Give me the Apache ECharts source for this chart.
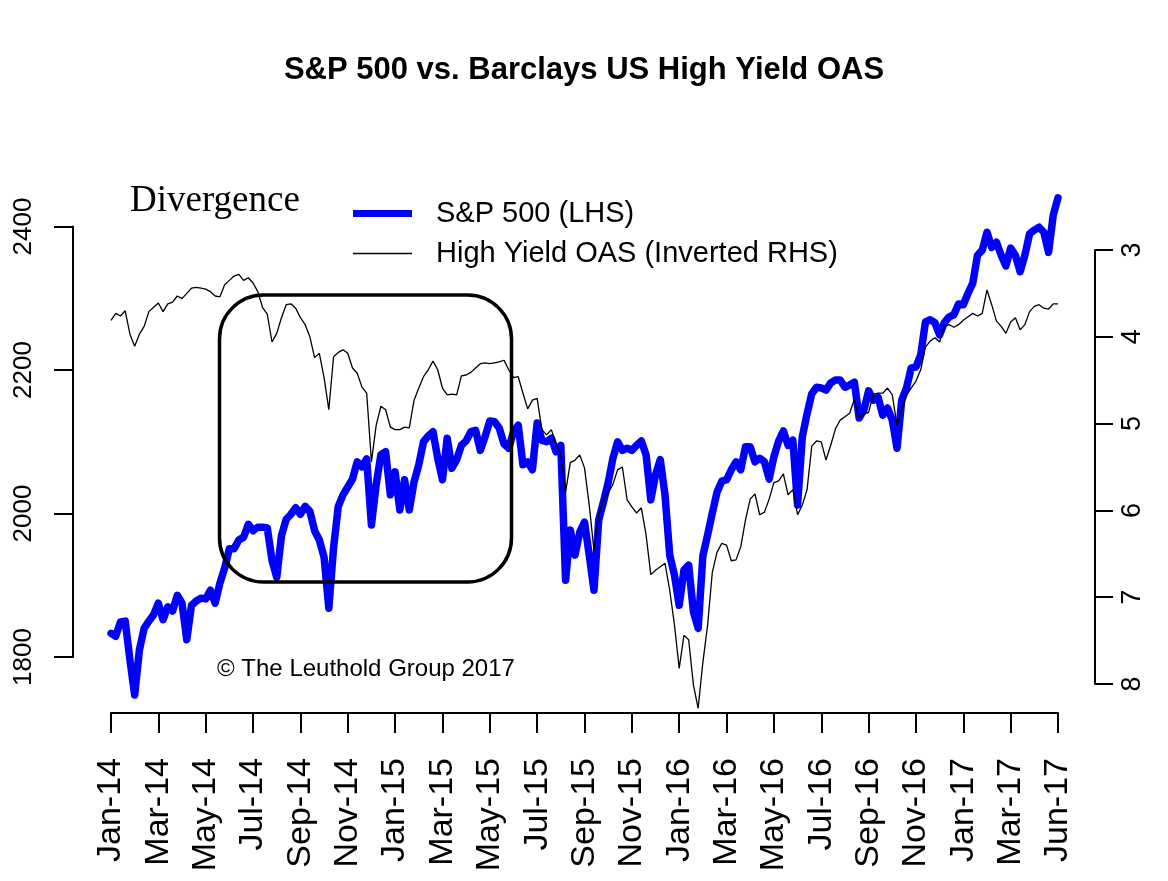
<!DOCTYPE html>
<html>
<head>
<meta charset="utf-8">
<script src="https://cdn.jsdelivr.net/npm/echarts@6/dist/echarts.min.js"></script>
<style>
html,body{margin:0;padding:0;background:#fff;}
#chart{width:1168px;height:881px;}
</style>
</head>
<body>
<div id="chart"></div>
<script>
// Tick labels at every 10th observation
var tickLabels = ['Jan-14','Mar-14','May-14','Jul-14','Sep-14','Nov-14','Jan-15','Mar-15','May-15','Jul-15',
  'Sep-15','Nov-15','Jan-16','Mar-16','May-16','Jul-16','Sep-16','Nov-16','Jan-17','Mar-17','Jun-17'];

// S&P 500 (LHS)
var spx = [
  1833,1829,1849,1850,1796,1747,1810,1840,1850,1859,
  1875,1852,1870,1864,1886,1875,1824,1872,1878,1882,
  1881,1893,1875,1903,1924,1951,1951,1963,1967,1985,
  1976,1981,1981,1980,1935,1911,1969,1992,1999,2008,
  1999,2010,2003,1976,1963,1939,1868,1952,2010,2026,
  2037,2048,2072,2065,2076,1984,2040,2082,2086,2026,
  2058,2005,2047,2005,2044,2068,2100,2108,2114,2077,
  2047,2105,2063,2075,2095,2101,2114,2116,2088,2107,
  2129,2128,2119,2097,2091,2114,2123,2068,2072,2061,
  2126,2102,2100,2105,2086,2095,1907,1977,1942,1974,
  1988,1942,1893,1991,2016,2043,2077,2100,2088,2091,
  2088,2095,2101,2082,2019,2054,2075,2026,1942,1914,
  1872,1921,1928,1863,1840,1941,1970,2001,2030,2045,
  2047,2061,2072,2061,2093,2093,2072,2077,2072,2048,
  2079,2101,2115,2095,2102,2012,2107,2139,2167,2176,
  2175,2172,2182,2186,2186,2176,2179,2183,2133,2144,
  2171,2158,2162,2137,2147,2130,2091,2158,2175,2203,
  2204,2221,2267,2270,2266,2249,2266,2274,2277,2292,
  2291,2307,2321,2360,2367,2392,2371,2378,2360,2345,
  2370,2360,2337,2360,2390,2395,2399,2392,2364,2416,2440
];

// High Yield OAS (inverted RHS)
var hy = [
  3.81,3.73,3.76,3.70,3.97,4.11,3.97,3.88,3.71,3.66,
  3.61,3.71,3.62,3.60,3.53,3.56,3.50,3.44,3.43,3.44,
  3.45,3.48,3.53,3.54,3.40,3.35,3.30,3.28,3.35,3.32,
  3.38,3.48,3.66,3.74,4.06,3.96,3.78,3.63,3.62,3.67,
  3.78,3.86,4.00,4.24,4.19,4.47,4.84,4.23,4.18,4.15,
  4.19,4.36,4.42,4.58,4.65,5.44,5.02,4.80,4.84,5.04,
  5.07,5.07,5.04,5.05,4.73,4.59,4.46,4.38,4.28,4.38,
  4.59,4.67,4.66,4.67,4.45,4.44,4.41,4.36,4.31,4.30,
  4.31,4.30,4.29,4.27,4.38,4.47,4.46,4.65,4.83,4.73,
  4.71,5.07,5.13,5.07,5.24,5.36,5.79,5.45,5.42,5.36,
  5.51,5.94,6.46,6.05,5.87,5.80,5.70,5.53,5.50,5.88,
  5.96,6.03,5.97,6.28,6.74,6.69,6.65,6.61,6.92,7.32,
  7.82,7.44,7.49,8.01,8.28,7.75,7.32,6.71,6.48,6.38,
  6.40,6.58,6.57,6.42,6.11,5.87,5.81,6.05,6.02,5.87,
  5.68,5.66,5.58,5.82,5.76,6.05,5.94,5.76,5.26,5.20,
  5.21,5.42,5.25,5.06,4.96,4.92,4.88,4.72,4.94,4.89,
  4.87,4.66,4.65,4.65,4.59,4.67,5.02,4.84,4.67,4.59,
  4.51,4.38,4.12,4.05,4.01,4.06,3.88,3.86,3.89,3.86,
  3.81,3.77,3.73,3.76,3.73,3.46,3.63,3.82,3.88,3.96,
  3.83,3.78,3.92,3.86,3.71,3.65,3.63,3.67,3.68,3.62,3.62
];

var leftTicks = [1800, 2400, 200];
var rightTicks = [3, 8, 1];

var FONT = 'Liberation Sans, Arial, sans-serif';
var chart = echarts.init(document.getElementById('chart'), null, {renderer: 'canvas'});

var spxData = spx.map(function (v, i) { return [i, v]; });
var hyData = hy.map(function (v, i) { return [i, v]; });
var nStep = (spx.length - 1) / (tickLabels.length - 1);

var axisLineStyle = {color: '#000', width: 2};

chart.setOption({
  backgroundColor: '#fff',
  animation: false,
  color: ['#0000ff', '#000000'],
  title: {
    text: 'S&P 500 vs. Barclays US High Yield OAS',
    left: 'center',
    top: 50,
    textStyle: {fontFamily: FONT, fontSize: 31, fontWeight: 'bold', color: '#000'}
  },
  legend: {
    show: true,
    orient: 'vertical',
    left: 353,
    top: 199,
    itemWidth: 59,
    itemHeight: 14,
    itemGap: 11,
    padding: 0,
    align: 'left',
    selectedMode: false,
    textStyle: {fontFamily: FONT, fontSize: 29, color: '#000', padding: [0, 0, 0, 19]},
    data: [
      {name: 'S&P 500 (LHS)', icon: 'path://M0,0H60V7H0Z', itemStyle: {color: '#0000ff'}},
      {name: 'High Yield OAS (Inverted RHS)', icon: 'path://M0,0H60V1.3H0Z', itemStyle: {color: '#000'}}
    ]
  },
  grid: [
    {left: 111, right: 110, top: 226.5, height: 430.5},
    {left: 111, right: 110, top: 250, height: 434}
  ],
  xAxis: [
    {
      type: 'value', gridIndex: 0, min: 0, max: spx.length - 1, interval: nStep,
      offset: 56,
      axisLine: {show: true, onZero: false, lineStyle: axisLineStyle},
      axisTick: {show: true, length: 20, lineStyle: axisLineStyle},
      splitLine: {show: false},
      axisLabel: {
        rotate: 90, margin: 45, fontFamily: FONT, fontSize: 34, color: '#000',
        formatter: function (v) { return tickLabels[Math.round(v / nStep)] || ''; }
      }
    },
    {
      type: 'value', gridIndex: 1, min: 0, max: hy.length - 1, show: false
    }
  ],
  yAxis: [
    {
      type: 'value', gridIndex: 0, position: 'left', offset: 38,
      min: leftTicks[0], max: leftTicks[1], interval: leftTicks[2],
      axisLine: {show: true, onZero: false, lineStyle: axisLineStyle},
      axisTick: {show: true, length: 19, lineStyle: axisLineStyle},
      splitLine: {show: false},
      axisLabel: {rotate: 90, margin: 36, fontFamily: FONT, fontSize: 26, color: '#000',
        formatter: function (v) { return String(v); }}
    },
    {
      type: 'value', gridIndex: 1, position: 'right', offset: 37, inverse: true,
      min: rightTicks[0], max: rightTicks[1], interval: rightTicks[2],
      axisLine: {show: true, onZero: false, lineStyle: axisLineStyle},
      axisTick: {show: true, length: 18, lineStyle: axisLineStyle},
      splitLine: {show: false},
      axisLabel: {rotate: 90, margin: 24, fontFamily: FONT, fontSize: 27, color: '#000',
        formatter: function (v) { return String(v); }}
    }
  ],
  series: [
    {
      name: 'S&P 500 (LHS)', type: 'line', xAxisIndex: 0, yAxisIndex: 0,
      data: spxData, showSymbol: false, symbol: 'none', clip: false, z: 2,
      itemStyle: {color: '#0000ff'},
      lineStyle: {color: '#0000ff', width: 7.5, join: 'round', cap: 'round'}
    },
    {
      name: 'High Yield OAS (Inverted RHS)', type: 'line', xAxisIndex: 1, yAxisIndex: 1,
      data: hyData, showSymbol: false, symbol: 'none', clip: false, z: 3,
      itemStyle: {color: '#000'},
      lineStyle: {color: '#000', width: 1.3}
    }
  ],
  graphic: [
    {
      type: 'rect', z: 10,
      shape: {x: 219.5, y: 295, width: 292, height: 287, r: 44},
      style: {fill: 'none', stroke: '#000', lineWidth: 3.5}
    },
    {
      type: 'text', z: 10, x: 130, y: 201,
      style: {text: 'Divergence', font: '37px "Liberation Serif", "Times New Roman", serif', fill: '#000', textVerticalAlign: 'middle'}
    },
    {
      type: 'text', z: 10, x: 217, y: 669,
      style: {text: '\u00A9 The Leuthold Group 2017', font: '24px "Liberation Sans", Arial, sans-serif', fill: '#000', textVerticalAlign: 'middle'}
    }
  ]
});
</script>
</body>
</html>
